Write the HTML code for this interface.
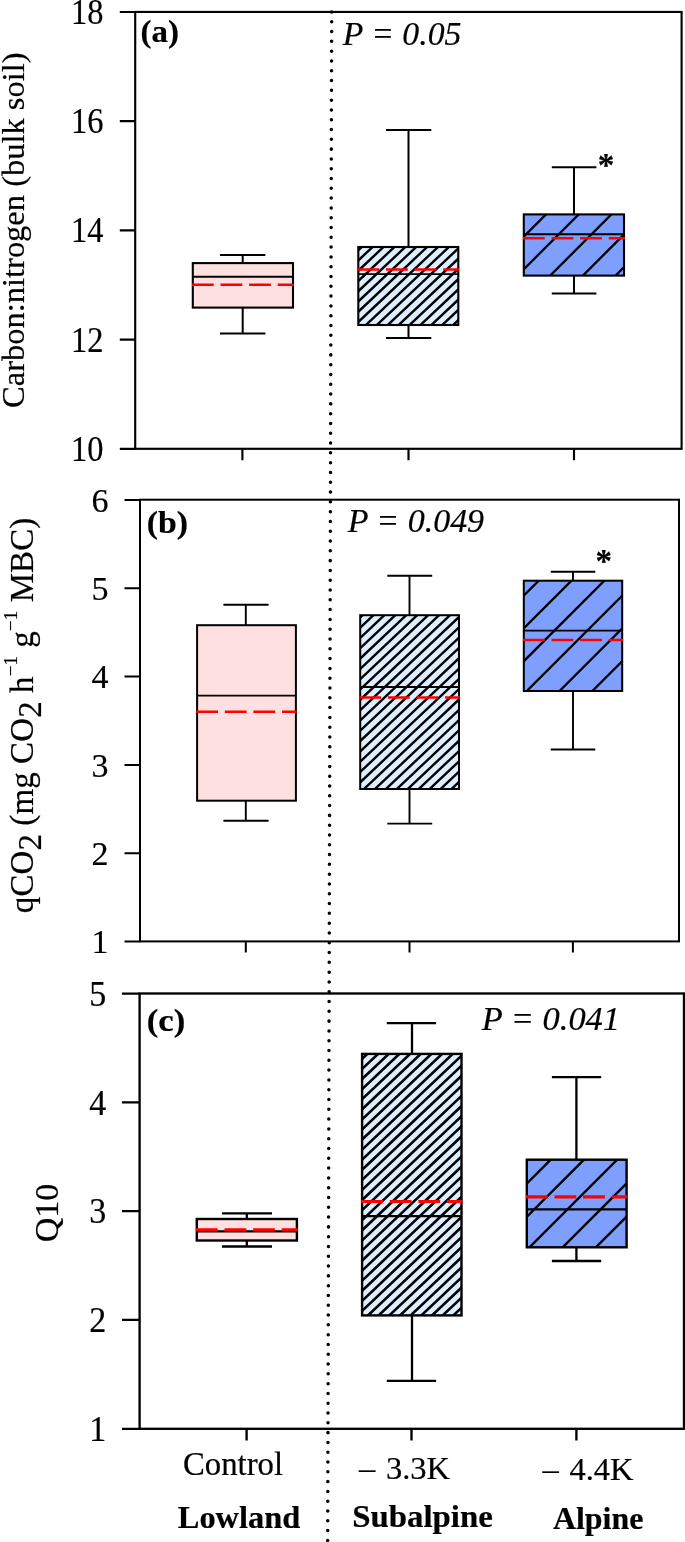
<!DOCTYPE html>
<html lang="en"><head><meta charset="utf-8"><title>Figure</title>
<style>html,body{margin:0;padding:0;background:#fff}svg{display:block}text{stroke:#000;stroke-width:.2px}</style></head>
<body>
<svg width="685" height="1542" viewBox="0 0 685 1542" font-family='"Liberation Serif", serif' fill="#000">
<rect width="685" height="1542" fill="#fff"/>
<path d="M331.7 11.95L327.7 1540.4" stroke="#000" stroke-width="3.5" stroke-dasharray="0.01 9.78779" stroke-linecap="round" fill="none"/>
<rect x="135.2" y="11.95" width="546.40" height="436.85" fill="none" stroke="#000" stroke-width="2.15"/>
<path d="M119.8 11.95H135.2M119.8 121.1H135.2M119.8 230.4H135.2M119.8 339.6H135.2M119.8 448.8H135.2M242.4 448.8V460.2M408.5 448.8V460.2M574 448.8V460.2" stroke="#000" stroke-width="2.15" fill="none"/>
<path d="M242.7 255V263.1M242.7 307.6V333.5M220 255H265.4M220 333.5H265.4" stroke="#000" stroke-width="2.0" fill="none"/>
<rect x="192.8" y="263.1" width="100.20" height="44.50" fill="#FFE0E0"/>
<path d="M192.8 276.8H293" stroke="#000" stroke-width="1.90" fill="none"/>
<rect x="192.8" y="263.1" width="100.20" height="44.50" fill="none" stroke="#000" stroke-width="2.10"/>
<path d="M191.90 284.8H293.90" stroke="#FF0000" stroke-width="2.5" stroke-dasharray="21.8 6.8" fill="none"/>
<path d="M408.5 130V247M408.5 325V338.1M386 130H431.3M386 338.1H431.3" stroke="#000" stroke-width="2.0" fill="none"/>
<rect x="358.3" y="247" width="100.00" height="78.00" fill="#DDEEFF"/>
<clipPath id="c1"><rect x="358.3" y="247" width="100.00" height="78.00"/></clipPath>
<path d="M355.30 232.52L461.30 132.84M355.30 242.77L461.30 143.09M355.30 253.02L461.30 153.34M355.30 263.27L461.30 163.59M355.30 273.52L461.30 173.84M355.30 283.77L461.30 184.09M355.30 294.02L461.30 194.34M355.30 304.27L461.30 204.59M355.30 314.52L461.30 214.84M355.30 324.77L461.30 225.09M355.30 335.02L461.30 235.34M355.30 345.27L461.30 245.59M355.30 355.52L461.30 255.84M355.30 365.77L461.30 266.09M355.30 376.02L461.30 276.34M355.30 386.27L461.30 286.59M355.30 396.52L461.30 296.84M355.30 406.77L461.30 307.09M355.30 417.02L461.30 317.34M355.30 427.27L461.30 327.59M355.30 437.52L461.30 337.84" stroke="#000" stroke-width="2.4" fill="none" clip-path="url(#c1)"/>
<path d="M358.3 274.1H458.3" stroke="#000" stroke-width="1.90" fill="none"/>
<rect x="358.3" y="247" width="100.00" height="78.00" fill="none" stroke="#000" stroke-width="2.10"/>
<path d="M357.40 269.6H459.20" stroke="#FF0000" stroke-width="2.5" stroke-dasharray="21.8 6.8" fill="none"/>
<path d="M574 167.3V214.4M574 275.6V293.6M551.8 167.3H596.4M551.8 293.6H596.4" stroke="#000" stroke-width="2.0" fill="none"/>
<rect x="523.8" y="214.4" width="100.20" height="61.20" fill="#7F9FFF"/>
<clipPath id="c2"><rect x="523.8" y="214.4" width="100.20" height="61.20"/></clipPath>
<path d="M520.80 174.20L627.00 68.00M520.80 206.90L627.00 100.70M520.80 239.60L627.00 133.40M520.80 272.30L627.00 166.10M520.80 305.00L627.00 198.80M520.80 337.70L627.00 231.50M520.80 370.40L627.00 264.20M520.80 403.10L627.00 296.90M520.80 435.80L627.00 329.60" stroke="#000" stroke-width="2.3" fill="none" clip-path="url(#c2)"/>
<path d="M523.8 234.2H624" stroke="#000" stroke-width="1.90" fill="none"/>
<rect x="523.8" y="214.4" width="100.20" height="61.20" fill="none" stroke="#000" stroke-width="2.10"/>
<path d="M522.90 238.3H624.90" stroke="#FF0000" stroke-width="2.5" stroke-dasharray="21.8 6.8" fill="none"/>
<text x="103.4" y="23.85" font-size="35" text-anchor="end" textLength="32.4" lengthAdjust="spacingAndGlyphs">18</text>
<text x="103.4" y="133.0" font-size="35" text-anchor="end" textLength="32.4" lengthAdjust="spacingAndGlyphs">16</text>
<text x="103.4" y="242.3" font-size="35" text-anchor="end" textLength="32.4" lengthAdjust="spacingAndGlyphs">14</text>
<text x="103.4" y="351.5" font-size="35" text-anchor="end" textLength="32.4" lengthAdjust="spacingAndGlyphs">12</text>
<text x="103.4" y="460.7" font-size="35" text-anchor="end" textLength="32.4" lengthAdjust="spacingAndGlyphs">10</text>
<text x="140.6" y="42.3" font-size="30.5" font-weight="bold" textLength="38.4" lengthAdjust="spacingAndGlyphs">(a)</text>
<text x="342.7" y="44.5" font-size="33.5" font-style="italic" textLength="118.7" lengthAdjust="spacingAndGlyphs">P = 0.05</text>
<text x="605.9" y="176.3" font-size="33" text-anchor="middle" font-weight="bold">*</text>
<text transform="translate(23.7 407.9) rotate(-90)" font-size="32.5" textLength="355.5" lengthAdjust="spacing">Carbon:nitrogen (bulk soil)</text>
<rect x="140" y="499.7" width="539.00" height="441.70" fill="none" stroke="#000" stroke-width="2.0"/>
<path d="M124.5 499.9H140M124.5 588.3H140M124.5 676.6H140M124.5 764.9H140M124.5 853.2H140M124.5 941.4H140M245.8 941.4V952.6M409.5 941.4V952.6M572.9 941.4V952.6" stroke="#000" stroke-width="2.0" fill="none"/>
<path d="M245.8 604.8V625.2M245.8 800.7V820.7M223.4 604.8H268.6M223.4 820.7H268.6" stroke="#000" stroke-width="1.9" fill="none"/>
<rect x="197.1" y="625.2" width="98.80" height="175.50" fill="#FFE0E0"/>
<path d="M197.1 695.6H295.9" stroke="#000" stroke-width="1.80" fill="none"/>
<rect x="197.1" y="625.2" width="98.80" height="175.50" fill="none" stroke="#000" stroke-width="2.00"/>
<path d="M196.20 711.7H296.80" stroke="#FF0000" stroke-width="2.5" stroke-dasharray="21.8 6.8" fill="none"/>
<path d="M409.5 575.8V615.2M409.5 789.0V823.6M387.3 575.8H432.2M387.3 823.6H432.2" stroke="#000" stroke-width="1.9" fill="none"/>
<rect x="360.2" y="615.2" width="98.80" height="173.80" fill="#DDEEFF"/>
<clipPath id="c3"><rect x="360.2" y="615.2" width="98.80" height="173.80"/></clipPath>
<path d="M357.20 599.54L462.00 500.77M357.20 609.85L462.00 511.08M357.20 620.16L462.00 521.39M357.20 630.47L462.00 531.70M357.20 640.78L462.00 542.01M357.20 651.09L462.00 552.32M357.20 661.40L462.00 562.63M357.20 671.71L462.00 572.94M357.20 682.02L462.00 583.25M357.20 692.33L462.00 593.56M357.20 702.64L462.00 603.87M357.20 712.95L462.00 614.18M357.20 723.26L462.00 624.49M357.20 733.57L462.00 634.80M357.20 743.88L462.00 645.11M357.20 754.19L462.00 655.42M357.20 764.50L462.00 665.73M357.20 774.81L462.00 676.04M357.20 785.12L462.00 686.35M357.20 795.43L462.00 696.66M357.20 805.74L462.00 706.97M357.20 816.05L462.00 717.28M357.20 826.36L462.00 727.59M357.20 836.67L462.00 737.90M357.20 846.98L462.00 748.21M357.20 857.29L462.00 758.52M357.20 867.60L462.00 768.83M357.20 877.91L462.00 779.14M357.20 888.22L462.00 789.45M357.20 898.53L462.00 799.76" stroke="#000" stroke-width="2.4" fill="none" clip-path="url(#c3)"/>
<path d="M360.2 687.0H459.0" stroke="#000" stroke-width="1.80" fill="none"/>
<rect x="360.2" y="615.2" width="98.80" height="173.80" fill="none" stroke="#000" stroke-width="2.00"/>
<path d="M359.30 697.6H459.90" stroke="#FF0000" stroke-width="2.5" stroke-dasharray="21.8 6.8" fill="none"/>
<path d="M573 571.7V580.7M573 691V749.5M550.8 571.7H595.3M550.8 749.5H595.3" stroke="#000" stroke-width="1.9" fill="none"/>
<rect x="523.8" y="580.7" width="98.40" height="110.30" fill="#7F9FFF"/>
<clipPath id="c4"><rect x="523.8" y="580.7" width="98.40" height="110.30"/></clipPath>
<path d="M520.80 533.00L625.20 428.60M520.80 565.80L625.20 461.40M520.80 598.60L625.20 494.20M520.80 631.40L625.20 527.00M520.80 664.20L625.20 559.80M520.80 697.00L625.20 592.60M520.80 729.80L625.20 625.40M520.80 762.60L625.20 658.20M520.80 795.40L625.20 691.00M520.80 828.20L625.20 723.80" stroke="#000" stroke-width="2.3" fill="none" clip-path="url(#c4)"/>
<path d="M523.8 630.6H622.2" stroke="#000" stroke-width="1.80" fill="none"/>
<rect x="523.8" y="580.7" width="98.40" height="110.30" fill="none" stroke="#000" stroke-width="2.00"/>
<path d="M522.90 640.1H623.10" stroke="#FF0000" stroke-width="2.5" stroke-dasharray="21.8 6.8" fill="none"/>
<text x="108.4" y="511.7" font-size="34" text-anchor="end">6</text>
<text x="108.4" y="600.0999999999999" font-size="34" text-anchor="end">5</text>
<text x="108.4" y="688.4" font-size="34" text-anchor="end">4</text>
<text x="108.4" y="776.6999999999999" font-size="34" text-anchor="end">3</text>
<text x="108.4" y="865.0" font-size="34" text-anchor="end">2</text>
<text x="108.4" y="953.3" font-size="34" text-anchor="end">1</text>
<text x="146.7" y="532.8" font-size="30.5" font-weight="bold" textLength="41.3" lengthAdjust="spacingAndGlyphs">(b)</text>
<text x="347.7" y="531.8" font-size="33.5" font-style="italic" textLength="136.4" lengthAdjust="spacingAndGlyphs">P = 0.049</text>
<text x="603.7" y="572.0" font-size="33" text-anchor="middle" font-weight="bold">*</text>
<text transform="translate(32.9 913.2) rotate(-90)" font-size="33" textLength="395.5" lengthAdjust="spacing">qCO<tspan dy="8.5">2</tspan><tspan dy="-8.5"> (mg CO</tspan><tspan dy="8.5">2</tspan><tspan dy="-8.5"> h</tspan><tspan dy="-16" font-size="19">−1</tspan><tspan dy="16"> g</tspan><tspan dy="-16" font-size="19">−1</tspan><tspan dy="16"> MBC)</tspan></text>
<rect x="139.6" y="993.5" width="544.40" height="435.30" fill="none" stroke="#000" stroke-width="2.35"/>
<path d="M122 993.6H139.6M122 1102.4H139.6M122 1211.1H139.6M122 1319.9H139.6M122 1428.8H139.6M246.6 1428.8V1440.6M411.5 1428.8V1440.6M576.4 1428.8V1440.6" stroke="#000" stroke-width="2.35" fill="none"/>
<path d="M246.8 1213.4V1219M246.8 1240.5V1246.5M222 1213.4H272M222 1246.5H272" stroke="#000" stroke-width="2.3" fill="none"/>
<rect x="196.8" y="1219" width="100.10" height="21.50" fill="#FFE0E0"/>
<path d="M196.8 1231.4H296.9" stroke="#000" stroke-width="2.18" fill="none"/>
<rect x="196.8" y="1219" width="100.10" height="21.50" fill="none" stroke="#000" stroke-width="2.40"/>
<path d="M195.90 1229.9H297.80" stroke="#FF0000" stroke-width="3.2" stroke-dasharray="21.8 6.8" fill="none"/>
<path d="M412 1023.2V1053.9M412 1315.4V1380.8M386.8 1023.2H436.1M386.8 1380.8H436.1" stroke="#000" stroke-width="2.3" fill="none"/>
<rect x="362.1" y="1053.9" width="99.40" height="261.50" fill="#DDEEFF"/>
<clipPath id="c5"><rect x="362.1" y="1053.9" width="99.40" height="261.50"/></clipPath>
<path d="M359.10 1041.58L464.50 942.01M359.10 1051.66L464.50 952.09M359.10 1061.74L464.50 962.17M359.10 1071.82L464.50 972.25M359.10 1081.90L464.50 982.33M359.10 1091.98L464.50 992.41M359.10 1102.06L464.50 1002.49M359.10 1112.14L464.50 1012.57M359.10 1122.22L464.50 1022.65M359.10 1132.30L464.50 1032.73M359.10 1142.38L464.50 1042.81M359.10 1152.46L464.50 1052.89M359.10 1162.54L464.50 1062.97M359.10 1172.62L464.50 1073.05M359.10 1182.70L464.50 1083.13M359.10 1192.78L464.50 1093.21M359.10 1202.86L464.50 1103.29M359.10 1212.94L464.50 1113.37M359.10 1223.02L464.50 1123.45M359.10 1233.10L464.50 1133.53M359.10 1243.18L464.50 1143.61M359.10 1253.26L464.50 1153.69M359.10 1263.34L464.50 1163.77M359.10 1273.42L464.50 1173.85M359.10 1283.50L464.50 1183.93M359.10 1293.58L464.50 1194.01M359.10 1303.66L464.50 1204.09M359.10 1313.74L464.50 1214.17M359.10 1323.82L464.50 1224.25M359.10 1333.90L464.50 1234.33M359.10 1343.98L464.50 1244.41M359.10 1354.06L464.50 1254.49M359.10 1364.14L464.50 1264.57M359.10 1374.22L464.50 1274.65M359.10 1384.30L464.50 1284.73M359.10 1394.38L464.50 1294.81M359.10 1404.46L464.50 1304.89M359.10 1414.54L464.50 1314.97M359.10 1424.62L464.50 1325.05" stroke="#000" stroke-width="2.6" fill="none" clip-path="url(#c5)"/>
<path d="M362.1 1216.1H461.5" stroke="#000" stroke-width="2.18" fill="none"/>
<rect x="362.1" y="1053.9" width="99.40" height="261.50" fill="none" stroke="#000" stroke-width="2.40"/>
<path d="M361.20 1201.5H462.40" stroke="#FF0000" stroke-width="3.2" stroke-dasharray="21.8 6.8" fill="none"/>
<path d="M576.4 1077.1V1159.7M576.4 1247.3V1261M551.9 1077.1H601.2M551.9 1261H601.2" stroke="#000" stroke-width="2.3" fill="none"/>
<rect x="526.8" y="1159.7" width="99.80" height="87.60" fill="#7F9FFF"/>
<clipPath id="c6"><rect x="526.8" y="1159.7" width="99.80" height="87.60"/></clipPath>
<path d="M523.80 1120.20L629.60 1014.40M523.80 1153.40L629.60 1047.60M523.80 1186.60L629.60 1080.80M523.80 1219.80L629.60 1114.00M523.80 1253.00L629.60 1147.20M523.80 1286.20L629.60 1180.40M523.80 1319.40L629.60 1213.60M523.80 1352.60L629.60 1246.80M523.80 1385.80L629.60 1280.00" stroke="#000" stroke-width="2.4" fill="none" clip-path="url(#c6)"/>
<path d="M526.8 1209.3H626.6" stroke="#000" stroke-width="2.18" fill="none"/>
<rect x="526.8" y="1159.7" width="99.80" height="87.60" fill="none" stroke="#000" stroke-width="2.40"/>
<path d="M525.90 1196.8H627.50" stroke="#FF0000" stroke-width="3.2" stroke-dasharray="21.8 6.8" fill="none"/>
<text x="106.2" y="1005.8000000000001" font-size="35" text-anchor="end" textLength="17" lengthAdjust="spacingAndGlyphs">5</text>
<text x="106.2" y="1114.6000000000001" font-size="35" text-anchor="end" textLength="17" lengthAdjust="spacingAndGlyphs">4</text>
<text x="106.2" y="1223.3" font-size="35" text-anchor="end" textLength="17" lengthAdjust="spacingAndGlyphs">3</text>
<text x="106.2" y="1332.1000000000001" font-size="35" text-anchor="end" textLength="17" lengthAdjust="spacingAndGlyphs">2</text>
<text x="106.2" y="1440.9" font-size="35" text-anchor="end" textLength="17" lengthAdjust="spacingAndGlyphs">1</text>
<text x="146.7" y="1031.1" font-size="30.5" font-weight="bold" textLength="38.5" lengthAdjust="spacingAndGlyphs">(c)</text>
<text x="481.8" y="1029.7" font-size="34.5" font-style="italic" textLength="138.2" lengthAdjust="spacingAndGlyphs">P = 0.041</text>
<text transform="translate(57.8 1242.3) rotate(-90)" font-size="34">Q10</text>
<text x="182.9" y="1475.2" font-size="33" textLength="100.2" lengthAdjust="spacingAndGlyphs">Control</text>
<text x="359.0" y="1478.5" font-size="32.5">–<tspan dx="2.6"> 3.3K</tspan></text>
<text x="542.5" y="1479.8" font-size="32.5">–<tspan dx="2.6"> 4.4K</tspan></text>
<text x="177.8" y="1528.2" font-size="31.5" font-weight="bold" textLength="122.5" lengthAdjust="spacingAndGlyphs">Lowland</text>
<text x="352.3" y="1526.9" font-size="31.5" font-weight="bold" textLength="140.5" lengthAdjust="spacingAndGlyphs">Subalpine</text>
<text x="553" y="1528.8" font-size="31.5" font-weight="bold" textLength="90.3" lengthAdjust="spacingAndGlyphs">Alpine</text>
</svg>
</body></html>
